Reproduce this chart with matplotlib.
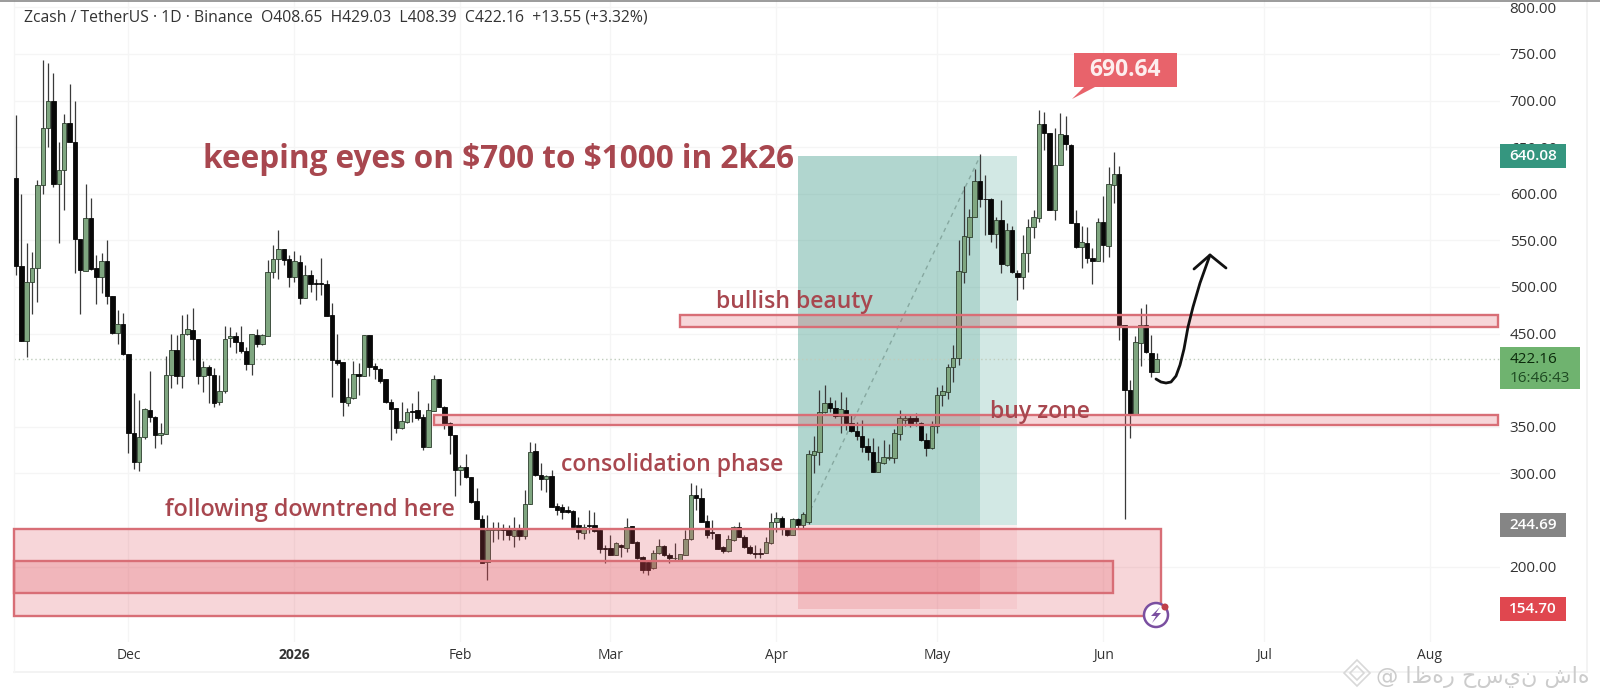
# Zcash / TetherUS daily candles with hand drawn zones, recreated from a chart screenshot
import matplotlib
matplotlib.use('Agg')
from matplotlib import pyplot as plt
from matplotlib.patches import Rectangle, Polygon, Circle
from matplotlib.transforms import Affine2D

# daily candles. G = up day, B = down day
directions = ("BBGGGGGBGG" "BBBGBBGBBG" "BBBGGBBGGG" "BGGBBGBBGG" "GBBBGBGGGG"
              "BBGBGBBBBB" "BBGGBGBBBB" "BBGGBBBGGB" "BBBGBBBBGG" "GBBGBGGBBG"
              "BBBBBBGBBB" "BBGBGBBBBG" "GBBGGGGBBB" "BBBGGBBBBB" "GGGBBGBGGG"
              "GGBBGBBBBB" "BGGGGGGBBB" "BGGGGGGGGG" "BBBGBGBBGG" "GGBBGGBBBG"
              "BBGBGGBBBG" "GBBG")
highs = [684,600,547,537,615,743,740,729,656,686,
         718,700,551,610,595,534,536,550,490,475,
         472,428,386,379,370,410,361,354,426,450,
         448,470,471,477,444,420,416,413,405,458,
         457,452,458,436,450,455,450,529,545,561,
         541,534,538,534,523,518,509,531,507,483,
         450,419,402,420,418,448,448,418,413,401,
         380,370,377,370,375,388,364,375,406,401,
         372,355,341,309,321,296,284,255,255,248,
         248,246,244.5,253,245.6,282,334,333,311,298,
         304,268,267,265,261,253,246,261,258,240,
         223,234,226,224,252,243,227,211,207,218,
         230,223,214,225,213,239,290,287,284,255,
         250,235,222,234,243,248,234,223,223,220,
         232,257,258,254,241,252,252,258,325,340,
         389,395,382,379,387,382,363,355,357,338,
         338,329,336,331,348,368,363,364,365,355,
         343,356,393,395,417,438,550,608,584,627,
         643,620,595,575,593,569,565,518,556,573,
         583,690,688,665,670,687,683,653,583,565,
         564,542,574,598,629,645,630,459,400,447,
         477,482,448,429.03]
body_tops = [616.5,522.4,505.6,520,609,671,700,700,625,675.5,
             675.5,656,551,573.5,573.5,520,528,528,490,460,
             460,428,343.5,339,368.6,368,360,343,405,432,
             432,450,455,454,444,414,414,405,388.6,444,
             447,447,441,431,449,448,448,516,530,541,
             541,529.6,528,527,513,513,504,504,503,470,
             422,419,382,407,407,448,448,415,412,401,
             377,369.7,356,366,367,368,360,368,401,401,
             371.5,353.6,341,307,307,295.6,270.6,251,239,240.6,
             240,240,240,239,240,267,323,324,298,297,
             297,265,263.5,260.6,260,244,242,244.5,244,239,
             219.5,219.5,225,223.4,242.7,243.4,226,209.8,205,214.8,
             222,222,212.3,209.5,213.4,229,276.7,276.7,273,249,
             237,235,220.6,229,242,242.7,232,221,214.8,214.8,
             226.6,248,251.7,251.7,240,251.3,251,256,321,324,
             366,375,375,370.4,368.6,368,353.6,345.7,340,329,
             323,312.4,317,317.8,342.8,359,359,359,359,354.3,
             335.7,350.7,384,388.6,413.6,423.3,517.4,554.6,575.3,614,
             614,594.6,594,571.8,571.8,561,561,515.2,536.7,564,
             574.6,674.8,674.8,664.8,630.8,663.7,663,652.6,568.9,547.8,
             547.4,530.6,570,569.3,610,621,621,459,389.3,440.5,
             459,459,429.4,422.16]
body_bottoms = [522.4,442.2,442.2,505.6,520,609,671,610,610,625,
                656,551,518,517,519,511,511,490,451,451,
                428,343.5,312.4,312,339,360,341,341,342,405,
                404,404,450,444,404,404,405,375,376,388.6,
                445,441,431,417,417,439,439,447,516,530,
                529,511,511,488,488,503,503,503,469,422,
                418,376,375,381,404,404,414,412,399,376,
                368.6,349,349,355,366,359,328,328.6,367,371.5,
                353,341,303.5,303.5,295.6,269.5,251,204,205,239,
                239,239,233.8,233,232.7,232.7,267,298,293.5,293.5,
                264,261,259,259,242.7,237,236,243.5,238.4,218.8,
                218.4,212.3,212.3,221,220,225.6,208.8,196,196,198,
                214,212.3,208.8,208.8,207,212,229,273,248,233.8,
                235.6,218.8,217,217,228.4,231.3,220.6,214,213.4,213.4,
                214.8,225,248,240,233.8,233.8,244.5,244,248,319.6,
                323,366,370.4,361.4,361.4,353.6,345.4,340,328.5,323,
                301,301,311,316,316,342,357,352.8,356.4,335.7,
                326.7,326.7,350.7,384,387.5,413.6,423.3,516.3,553.9,574.6,
                594,594,556.7,556.7,524.2,523.5,515.6,510.9,510.2,536,
                564,573.6,664.8,582.5,582.5,630.8,653.3,568.9,542.4,542.4,
                530.6,528,528,545,544.2,609.3,459,389.3,362.5,362.5,
                440,430.5,409,408.65]
lows = [512.7,442,425,471,484,600,650,607,547,582,
        656,514.5,471,517,518,482,493,482,449,439,
        427,322,305,303,337,355,327,331,342,391,
        396,391,448,422,396,387.5,375,371,373,386,
        436,429,429,411,405,436,438,447,510,509,
        523,500,505,482,488,495,486,491,469,382,
        416,361,372,380,384,404,404,401,396.5,375,
        336,343,348,353.6,355,357,325,328.6,367,371,
        347,321,276,287,294.6,268.5,251,204,185.5,226.6,
        230,228,228.4,220.6,228.4,230,267,297,282,280,
        263.5,255,250.6,257.8,242,230,230,235.6,237,214.8,
        203.4,212.3,212.3,210.5,216,225,207.7,193.4,190.9,197,
        213.4,211,204,207,206.3,212,228.4,260.6,248,231,
        230,218.4,214,216,227.7,231.3,219.5,213.4,208.8,208.8,
        214,224,237,233.8,232.7,233.8,241,240,246,300,
        309,365,366,359,343.5,346.4,344.6,335.7,323,314,
        301,301,310,314,310.6,335.7,350.7,350,350.7,335,
        318.5,325.6,343.5,372,379.3,398.3,416,504.5,534.2,574.6,
        586,555.7,548.5,541.3,515.2,522.4,514.5,485.9,497.4,516.3,
        552,570,646.9,582.5,571.8,630.8,646.9,568.2,541.4,520,
        525.3,503,528,527,532.4,589.7,443,250.6,337.5,362.5,
        415,429.4,403,408.39]

month_days = [21, 52, 83, 111, 142, 172, 203, 233, 264]
month_labels = ['Dec', '2026', 'Feb', 'Mar', 'Apr', 'May', 'Jun', 'Jul', 'Aug']
# 150, 250 and 400 sit behind the price tags in the reference, so they are left out
price_ticks = [200, 300, 350, 450, 500, 550, 600, 650, 700, 750, 800]

last_close = 422.16
entry, target, stop = 244.69, 640.08, 154.70

header = 'Zcash / TetherUS · 1D · Binance  O408.65  H429.03  L408.39  C422.16  +13.55 (+3.32%)'
note_color = '#a8474f'

fig = plt.figure(figsize=(16, 6.96), dpi=100, facecolor='white')
ax = fig.add_axes([14 / 1600, 1 - 642 / 696, (1500 - 14) / 1600, 642 / 696])
ax.set_xlim(-0.37, 277.1)
ax.set_ylim(800 - 634.7 / 0.932, 800 + 7.3 / 0.932)

# pixel space, origin top left, for the things drawn by hand on the screenshot
px = Affine2D().scale(1 / 1600, -1 / 696).translate(0, 1) + fig.transFigure

def price_y(price):
    return 696 - ax.transData.transform((0, price))[1]

# axes
for side in ax.spines:
    ax.spines[side].set_visible(False)
ax.yaxis.tick_right()
ax.set_yticks(price_ticks)
ax.set_yticklabels(['%.2f' % p for p in price_ticks], fontfamily='Open Sans', fontsize=11, color='#333333')
ax.set_xticks(month_days)
ax.set_xticklabels(month_labels, fontfamily='Open Sans', fontsize=10, color='#333333')
ax.get_xticklabels()[1].set_fontweight('bold')
ax.tick_params(axis='y', length=0, pad=7)
ax.tick_params(axis='x', length=0, pad=4)
ax.grid(True, color='#f5f5f5', lw=1)
ax.set_axisbelow(True)

# long position tool
ax.add_patch(Rectangle((146.1, entry), 33.9, target - entry, fc=(34 / 255, 140 / 255, 120 / 255, 0.35), ec='none', zorder=1))
ax.add_patch(Rectangle((180, entry), 7, target - entry, fc=(34 / 255, 140 / 255, 120 / 255, 0.2), ec='none', zorder=1))
ax.plot([147, 180], [entry, target], color='#86a8a0', lw=1, ls=(0, (3, 3)), zorder=1.5)
ax.axhline(last_close, color='#bfccbc', lw=1, ls=(0, (1, 2)), zorder=1)

# candles
for i, d in enumerate(directions):
    ax.plot([i, i], [lows[i], highs[i]], color='#3a3a3a', lw=0.9, solid_capstyle='butt', zorder=2)
    fill = '#7fa680' if d == 'G' else '#080808'
    edge = '#2c3d2c' if d == 'G' else '#080808'
    ax.add_patch(Rectangle((i - 0.42, body_bottoms[i]), 0.84, body_tops[i] - body_bottoms[i],
                           fc=fill, ec=edge, lw=0.6, zorder=3))

# zones, on top of the candles
zone_line = '#d86e76'
zone_fill = (222 / 255, 70 / 255, 82 / 255, 0.22)
ax.add_patch(Rectangle((-0.37, 147), 214.2, 93, fc=zone_fill, ec=zone_line, lw=1.7, zorder=4, clip_on=False))
ax.add_patch(Rectangle((-0.37, 172), 205.2, 34, fc=zone_fill, ec=zone_line, lw=1.7, zorder=4, clip_on=False))
ax.add_patch(Rectangle((124, 457.5), 152.7, 12.5, fc=zone_fill, ec=zone_line, lw=1.7, zorder=4))
ax.add_patch(Rectangle((78, 352), 198.7, 10.7, fc=zone_fill, ec=zone_line, lw=1.7, zorder=4))
ax.add_patch(Rectangle((146.1, stop), 33.9, entry - stop, fc=(222 / 255, 70 / 255, 82 / 255, 0.18), ec='none', zorder=4))
ax.add_patch(Rectangle((180, stop), 7, entry - stop, fc=(222 / 255, 70 / 255, 82 / 255, 0.08), ec='none', zorder=4))

# notes
ax.text(203, 160, r'keeping eyes on \$700 to \$1000 in 2k26', transform=px, fontfamily='Open Sans', fontweight='bold',
        fontsize=22.7, color=note_color, va='center', zorder=6)
ax.text(716, 302, 'bullish beauty', transform=px, fontfamily='Open Sans', fontweight='semibold',
        fontsize=16.6, color=note_color, va='center', zorder=6)
ax.text(990, 412, 'buy zone', transform=px, fontfamily='Open Sans', fontweight='semibold',
        fontsize=16.6, color=note_color, va='center', zorder=6)
ax.text(561, 465, 'consolidation phase', transform=px, fontfamily='Open Sans', fontweight='semibold',
        fontsize=16.6, color=note_color, va='center', zorder=6)
ax.text(165, 510, 'following downtrend here', transform=px, fontfamily='Open Sans', fontweight='semibold',
        fontsize=16.8, color=note_color, va='center', zorder=6)

# high callout
ax.add_patch(Rectangle((1074, 53), 103, 34, transform=px, fc='#e8636b', ec='none', zorder=6, clip_on=False))
ax.add_patch(Polygon([(1072, 99), (1084, 87), (1095, 87)], transform=px, fc='#e8636b', ec='none', zorder=6, clip_on=False))
ax.text(1125, 70, '690.64', transform=px, fontfamily='Open Sans', fontweight='bold', fontsize=16.5,
        color='#fdeeee', ha='center', va='center', zorder=7)

# hand drawn arrow
arrow_x = [1156, 1161, 1166, 1171, 1176, 1180, 1184, 1188, 1193, 1200, 1210]
arrow_y = [379, 382, 383, 382, 376, 365, 349, 327, 307, 283, 255]
ax.plot(arrow_x, arrow_y, transform=px, color='#111111', lw=2, solid_capstyle='round', zorder=7, clip_on=False)
ax.plot([1194, 1210, 1226], [269, 255, 268], transform=px, color='#111111', lw=2, solid_capstyle='round', zorder=7, clip_on=False)

# price tags on the axis
tags = [(target, '640.08', '#35967f', 'white'), (entry, '244.69', '#858585', 'white'), (stop, '154.70', '#e0474f', 'white')]
for price, label, color, text_color in tags:
    y = price_y(price)
    ax.add_patch(Rectangle((1500, y - 12), 66, 24, transform=px, fc=color, ec='none', zorder=8, clip_on=False))
    ax.text(1533, y, label, transform=px, fontfamily='Open Sans', fontweight='semibold', fontsize=11,
            color=text_color, ha='center', va='center', zorder=9)
y = price_y(last_close)
ax.add_patch(Rectangle((1500, y - 12), 80, 42, transform=px, fc='#6fb36f', ec='none', zorder=8, clip_on=False))
ax.text(1510, y, '422.16', transform=px, fontfamily='Open Sans', fontsize=11, color='#0c2a0c', va='center', zorder=9)
ax.text(1510, y + 19, '16:46:43', transform=px, fontfamily='Open Sans', fontsize=11, color='#1e4a22', va='center', zorder=9)

# header
ax.text(24, 18, header, transform=px, fontfamily='Open Sans', fontsize=11.3, color='#333333', va='center', zorder=9)

# tradingview icon
ax.add_patch(Circle((1156, 615), 12, transform=px, fc='white', ec='#7a4fa0', lw=1.8, zorder=7, clip_on=False))
ax.add_patch(Polygon([(1160, 607), (1151, 616), (1156, 616), (1152, 623), (1161, 613), (1156, 613)], transform=px,
                     fc='#7a4fa0', ec='none', zorder=8, clip_on=False))
ax.add_patch(Circle((1165, 607), 3.5, transform=px, fc='#c0404a', ec='none', zorder=8, clip_on=False))

# pane edges
ax.plot([0, 1600], [0.5, 0.5], transform=px, color='#8a8a8a', lw=1.2, clip_on=False, zorder=9)
ax.plot([1587, 1587], [0, 672], transform=px, color='#f1f1f1', lw=1.2, clip_on=False, zorder=1)
ax.plot([14, 1587], [672, 672], transform=px, color='#f1f1f1', lw=1.2, clip_on=False, zorder=1)
ax.plot([14, 14], [0, 672], transform=px, color='#f5f5f5', lw=1, clip_on=False, zorder=1)

# watermark
ax.add_patch(Polygon([(1357, 660), (1370, 673), (1357, 686), (1344, 673)], transform=px, fc='none', ec='#d8d8d8', lw=1.2, zorder=9, clip_on=False))
ax.add_patch(Polygon([(1357, 666), (1364, 673), (1357, 680), (1350, 673)], transform=px, fc='none', ec='#d8d8d8', lw=1.2, zorder=9, clip_on=False))
fig.text(1376 / 1600, 1 - 677 / 696, '@ اظهر حسين شاه', fontfamily='DejaVu Sans', fontsize=16, color='#cccccc', va='center')

fig.savefig('out.png', dpi=100)
